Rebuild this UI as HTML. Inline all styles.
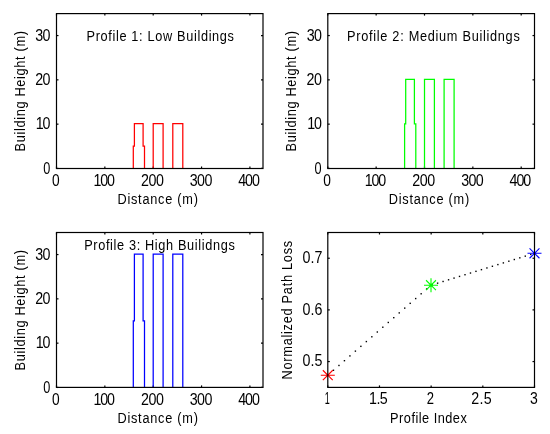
<!DOCTYPE html>
<html><head><meta charset="utf-8"><title>Building profiles and normalized path loss</title>
<style>
html,body{margin:0;padding:0;background:#fff;}
svg{display:block;}
svg text{font-family:"Liberation Sans", Arial, Helvetica, sans-serif;font-size:15.0px;fill:#000;}
</style></head><body>
<svg width="550" height="434" viewBox="0 0 550 434">
<rect width="550" height="434" fill="#fff"/>
<line x1="56.50" y1="168.50" x2="56.50" y2="166.50" stroke="#000" stroke-width="1.2"/>
<line x1="56.50" y1="13.60" x2="56.50" y2="15.60" stroke="#000" stroke-width="1.2"/>
<line x1="104.85" y1="168.50" x2="104.85" y2="166.50" stroke="#000" stroke-width="1.2"/>
<line x1="104.85" y1="13.60" x2="104.85" y2="15.60" stroke="#000" stroke-width="1.2"/>
<line x1="153.20" y1="168.50" x2="153.20" y2="166.50" stroke="#000" stroke-width="1.2"/>
<line x1="153.20" y1="13.60" x2="153.20" y2="15.60" stroke="#000" stroke-width="1.2"/>
<line x1="201.55" y1="168.50" x2="201.55" y2="166.50" stroke="#000" stroke-width="1.2"/>
<line x1="201.55" y1="13.60" x2="201.55" y2="15.60" stroke="#000" stroke-width="1.2"/>
<line x1="249.90" y1="168.50" x2="249.90" y2="166.50" stroke="#000" stroke-width="1.2"/>
<line x1="249.90" y1="13.60" x2="249.90" y2="15.60" stroke="#000" stroke-width="1.2"/>
<line x1="56.50" y1="168.45" x2="58.50" y2="168.45" stroke="#000" stroke-width="1.2"/>
<line x1="263.00" y1="168.45" x2="261.00" y2="168.45" stroke="#000" stroke-width="1.2"/>
<line x1="56.50" y1="124.15" x2="58.50" y2="124.15" stroke="#000" stroke-width="1.2"/>
<line x1="263.00" y1="124.15" x2="261.00" y2="124.15" stroke="#000" stroke-width="1.2"/>
<line x1="56.50" y1="79.85" x2="58.50" y2="79.85" stroke="#000" stroke-width="1.2"/>
<line x1="263.00" y1="79.85" x2="261.00" y2="79.85" stroke="#000" stroke-width="1.2"/>
<line x1="56.50" y1="35.55" x2="58.50" y2="35.55" stroke="#000" stroke-width="1.2"/>
<line x1="263.00" y1="35.55" x2="261.00" y2="35.55" stroke="#000" stroke-width="1.2"/>
<text transform="translate(51.95,185.60) scale(0.9167,1.040)">0</text>
<text transform="translate(93.56,185.60) scale(0.9500,1.040)" style="letter-spacing:-1.309px">100</text>
<text transform="translate(140.99,185.60) scale(0.9500,1.040)" style="letter-spacing:-0.429px">200</text>
<text transform="translate(189.83,185.60) scale(0.9500,1.040)" style="letter-spacing:-0.662px">300</text>
<text transform="translate(238.31,185.60) scale(0.9500,1.040)" style="letter-spacing:-1.180px">400</text>
<text transform="translate(35.33,40.80) scale(0.9500,1.040)" style="letter-spacing:-0.713px">30</text>
<text transform="translate(35.19,84.75) scale(0.9500,1.040)" style="letter-spacing:-0.563px">20</text>
<text transform="translate(35.86,128.85) scale(0.9500,1.040)" style="letter-spacing:-1.271px">10</text>
<text transform="translate(43.29,173.95) scale(0.8472,1.040)">0</text>
<text transform="translate(117.48,204.20) scale(0.8500,1.030)" style="letter-spacing:0.876px">Distance (m)</text>
<text transform="translate(24.70,151.42) rotate(-90) scale(0.8500,1.030)" style="letter-spacing:0.785px">Building Height (m)</text>
<polyline points="133.30,168.50 133.30,146.10 134.40,146.10 134.40,123.65 143.10,123.65 143.10,146.10 144.50,146.10 144.50,168.50" fill="none" stroke="#ff0000" stroke-width="1.25"/>
<polyline points="153.20,168.50 153.20,123.65 163.10,123.65 163.10,168.50" fill="none" stroke="#ff0000" stroke-width="1.25"/>
<polyline points="172.80,168.50 172.80,123.65 182.80,123.65 182.80,168.50" fill="none" stroke="#ff0000" stroke-width="1.25"/>
<text transform="translate(86.48,40.60) scale(0.8500,1.030)" style="letter-spacing:0.769px">Profile 1: Low Buildings</text>
<line x1="327.80" y1="168.50" x2="327.80" y2="166.50" stroke="#000" stroke-width="1.2"/>
<line x1="327.80" y1="13.60" x2="327.80" y2="15.60" stroke="#000" stroke-width="1.2"/>
<line x1="376.15" y1="168.50" x2="376.15" y2="166.50" stroke="#000" stroke-width="1.2"/>
<line x1="376.15" y1="13.60" x2="376.15" y2="15.60" stroke="#000" stroke-width="1.2"/>
<line x1="424.50" y1="168.50" x2="424.50" y2="166.50" stroke="#000" stroke-width="1.2"/>
<line x1="424.50" y1="13.60" x2="424.50" y2="15.60" stroke="#000" stroke-width="1.2"/>
<line x1="472.85" y1="168.50" x2="472.85" y2="166.50" stroke="#000" stroke-width="1.2"/>
<line x1="472.85" y1="13.60" x2="472.85" y2="15.60" stroke="#000" stroke-width="1.2"/>
<line x1="521.20" y1="168.50" x2="521.20" y2="166.50" stroke="#000" stroke-width="1.2"/>
<line x1="521.20" y1="13.60" x2="521.20" y2="15.60" stroke="#000" stroke-width="1.2"/>
<line x1="327.80" y1="168.45" x2="329.80" y2="168.45" stroke="#000" stroke-width="1.2"/>
<line x1="534.50" y1="168.45" x2="532.50" y2="168.45" stroke="#000" stroke-width="1.2"/>
<line x1="327.80" y1="124.15" x2="329.80" y2="124.15" stroke="#000" stroke-width="1.2"/>
<line x1="534.50" y1="124.15" x2="532.50" y2="124.15" stroke="#000" stroke-width="1.2"/>
<line x1="327.80" y1="79.85" x2="329.80" y2="79.85" stroke="#000" stroke-width="1.2"/>
<line x1="534.50" y1="79.85" x2="532.50" y2="79.85" stroke="#000" stroke-width="1.2"/>
<line x1="327.80" y1="35.55" x2="329.80" y2="35.55" stroke="#000" stroke-width="1.2"/>
<line x1="534.50" y1="35.55" x2="532.50" y2="35.55" stroke="#000" stroke-width="1.2"/>
<text transform="translate(323.25,185.60) scale(0.9167,1.040)">0</text>
<text transform="translate(364.86,185.60) scale(0.9500,1.040)" style="letter-spacing:-1.309px">100</text>
<text transform="translate(412.29,185.60) scale(0.9500,1.040)" style="letter-spacing:-0.429px">200</text>
<text transform="translate(461.13,185.60) scale(0.9500,1.040)" style="letter-spacing:-0.662px">300</text>
<text transform="translate(509.62,185.60) scale(0.9500,1.040)" style="letter-spacing:-1.180px">400</text>
<text transform="translate(306.63,40.80) scale(0.9500,1.040)" style="letter-spacing:-0.713px">30</text>
<text transform="translate(306.49,84.75) scale(0.9500,1.040)" style="letter-spacing:-0.563px">20</text>
<text transform="translate(307.16,128.85) scale(0.9500,1.040)" style="letter-spacing:-1.271px">10</text>
<text transform="translate(314.59,173.95) scale(0.8472,1.040)">0</text>
<text transform="translate(388.78,204.20) scale(0.8500,1.030)" style="letter-spacing:0.876px">Distance (m)</text>
<text transform="translate(296.00,151.42) rotate(-90) scale(0.8500,1.030)" style="letter-spacing:0.785px">Building Height (m)</text>
<polyline points="404.60,168.50 404.60,123.95 405.70,123.95 405.70,79.35 414.40,79.35 414.40,123.95 415.80,123.95 415.80,168.50" fill="none" stroke="#00ff00" stroke-width="1.25"/>
<polyline points="424.50,168.50 424.50,79.35 434.40,79.35 434.40,168.50" fill="none" stroke="#00ff00" stroke-width="1.25"/>
<polyline points="444.10,168.50 444.10,79.35 454.10,79.35 454.10,168.50" fill="none" stroke="#00ff00" stroke-width="1.25"/>
<text transform="translate(347.08,40.70) scale(0.8500,1.030)" style="letter-spacing:0.828px">Profile 2: Medium Builidngs</text>
<line x1="56.50" y1="387.40" x2="56.50" y2="385.40" stroke="#000" stroke-width="1.2"/>
<line x1="56.50" y1="232.50" x2="56.50" y2="234.50" stroke="#000" stroke-width="1.2"/>
<line x1="104.85" y1="387.40" x2="104.85" y2="385.40" stroke="#000" stroke-width="1.2"/>
<line x1="104.85" y1="232.50" x2="104.85" y2="234.50" stroke="#000" stroke-width="1.2"/>
<line x1="153.20" y1="387.40" x2="153.20" y2="385.40" stroke="#000" stroke-width="1.2"/>
<line x1="153.20" y1="232.50" x2="153.20" y2="234.50" stroke="#000" stroke-width="1.2"/>
<line x1="201.55" y1="387.40" x2="201.55" y2="385.40" stroke="#000" stroke-width="1.2"/>
<line x1="201.55" y1="232.50" x2="201.55" y2="234.50" stroke="#000" stroke-width="1.2"/>
<line x1="249.90" y1="387.40" x2="249.90" y2="385.40" stroke="#000" stroke-width="1.2"/>
<line x1="249.90" y1="232.50" x2="249.90" y2="234.50" stroke="#000" stroke-width="1.2"/>
<line x1="56.50" y1="387.45" x2="58.50" y2="387.45" stroke="#000" stroke-width="1.2"/>
<line x1="263.00" y1="387.45" x2="261.00" y2="387.45" stroke="#000" stroke-width="1.2"/>
<line x1="56.50" y1="343.15" x2="58.50" y2="343.15" stroke="#000" stroke-width="1.2"/>
<line x1="263.00" y1="343.15" x2="261.00" y2="343.15" stroke="#000" stroke-width="1.2"/>
<line x1="56.50" y1="298.85" x2="58.50" y2="298.85" stroke="#000" stroke-width="1.2"/>
<line x1="263.00" y1="298.85" x2="261.00" y2="298.85" stroke="#000" stroke-width="1.2"/>
<line x1="56.50" y1="254.55" x2="58.50" y2="254.55" stroke="#000" stroke-width="1.2"/>
<line x1="263.00" y1="254.55" x2="261.00" y2="254.55" stroke="#000" stroke-width="1.2"/>
<text transform="translate(51.95,404.60) scale(0.9167,1.040)">0</text>
<text transform="translate(93.56,404.60) scale(0.9500,1.040)" style="letter-spacing:-1.309px">100</text>
<text transform="translate(140.99,404.60) scale(0.9500,1.040)" style="letter-spacing:-0.429px">200</text>
<text transform="translate(189.83,404.60) scale(0.9500,1.040)" style="letter-spacing:-0.662px">300</text>
<text transform="translate(238.31,404.60) scale(0.9500,1.040)" style="letter-spacing:-1.180px">400</text>
<text transform="translate(35.33,259.80) scale(0.9500,1.040)" style="letter-spacing:-0.713px">30</text>
<text transform="translate(35.19,303.75) scale(0.9500,1.040)" style="letter-spacing:-0.563px">20</text>
<text transform="translate(35.86,347.85) scale(0.9500,1.040)" style="letter-spacing:-1.271px">10</text>
<text transform="translate(43.29,392.95) scale(0.8472,1.040)">0</text>
<text transform="translate(117.48,423.20) scale(0.8500,1.030)" style="letter-spacing:0.876px">Distance (m)</text>
<text transform="translate(24.70,370.42) rotate(-90) scale(0.8500,1.030)" style="letter-spacing:0.785px">Building Height (m)</text>
<polyline points="133.30,387.40 133.30,320.80 134.40,320.80 134.40,254.05 143.10,254.05 143.10,320.80 144.50,320.80 144.50,387.40" fill="none" stroke="#0000ff" stroke-width="1.25"/>
<polyline points="153.20,387.40 153.20,254.05 163.10,254.05 163.10,387.40" fill="none" stroke="#0000ff" stroke-width="1.25"/>
<polyline points="172.80,387.40 172.80,254.05 182.80,254.05 182.80,387.40" fill="none" stroke="#0000ff" stroke-width="1.25"/>
<text transform="translate(84.18,250.30) scale(0.8500,1.030)" style="letter-spacing:0.751px">Profile 3: High Builidngs</text>
<line x1="327.80" y1="387.40" x2="327.80" y2="385.40" stroke="#000" stroke-width="1.2"/>
<line x1="327.80" y1="232.50" x2="327.80" y2="234.50" stroke="#000" stroke-width="1.2"/>
<line x1="379.48" y1="387.40" x2="379.48" y2="385.40" stroke="#000" stroke-width="1.2"/>
<line x1="379.48" y1="232.50" x2="379.48" y2="234.50" stroke="#000" stroke-width="1.2"/>
<line x1="431.15" y1="387.40" x2="431.15" y2="385.40" stroke="#000" stroke-width="1.2"/>
<line x1="431.15" y1="232.50" x2="431.15" y2="234.50" stroke="#000" stroke-width="1.2"/>
<line x1="482.82" y1="387.40" x2="482.82" y2="385.40" stroke="#000" stroke-width="1.2"/>
<line x1="482.82" y1="232.50" x2="482.82" y2="234.50" stroke="#000" stroke-width="1.2"/>
<line x1="534.50" y1="387.40" x2="534.50" y2="385.40" stroke="#000" stroke-width="1.2"/>
<line x1="534.50" y1="232.50" x2="534.50" y2="234.50" stroke="#000" stroke-width="1.2"/>
<line x1="327.80" y1="361.56" x2="329.80" y2="361.56" stroke="#000" stroke-width="1.2"/>
<line x1="534.50" y1="361.56" x2="532.50" y2="361.56" stroke="#000" stroke-width="1.2"/>
<line x1="327.80" y1="309.89" x2="329.80" y2="309.89" stroke="#000" stroke-width="1.2"/>
<line x1="534.50" y1="309.89" x2="532.50" y2="309.89" stroke="#000" stroke-width="1.2"/>
<line x1="327.80" y1="258.23" x2="329.80" y2="258.23" stroke="#000" stroke-width="1.2"/>
<line x1="534.50" y1="258.23" x2="532.50" y2="258.23" stroke="#000" stroke-width="1.2"/>
<text transform="translate(324.67,404.20) scale(0.6047,1.040)">1</text>
<text transform="translate(369.06,404.20) scale(0.9500,1.040)" style="letter-spacing:-0.578px">1.5</text>
<text transform="translate(426.75,404.20) scale(0.8696,1.040)">2</text>
<text transform="translate(471.29,404.20) scale(0.9500,1.040)" style="letter-spacing:0.250px">2.5</text>
<text transform="translate(529.94,404.20) scale(0.9362,1.040)">3</text>
<text transform="translate(302.53,263.05) scale(0.9500,1.040)" style="letter-spacing:0.092px">0.7</text>
<text transform="translate(302.53,314.50) scale(0.9500,1.040)" style="letter-spacing:0.017px">0.6</text>
<text transform="translate(302.53,366.25) scale(0.9500,1.040)" style="letter-spacing:0.017px">0.5</text>
<text transform="translate(390.08,423.00) scale(0.8500,1.030)" style="letter-spacing:0.577px">Profile Index</text>
<text transform="translate(291.60,379.42) rotate(-90) scale(0.8500,1.030)" style="letter-spacing:0.861px">Normalized Path Loss</text>
<rect x="332.78" y="369.55" width="1.4" height="1.4" fill="#000"/><rect x="338.26" y="364.77" width="1.4" height="1.4" fill="#000"/><rect x="343.74" y="359.99" width="1.4" height="1.4" fill="#000"/><rect x="349.22" y="355.21" width="1.4" height="1.4" fill="#000"/><rect x="354.70" y="350.43" width="1.4" height="1.4" fill="#000"/><rect x="360.18" y="345.65" width="1.4" height="1.4" fill="#000"/><rect x="365.66" y="340.87" width="1.4" height="1.4" fill="#000"/><rect x="371.14" y="336.09" width="1.4" height="1.4" fill="#000"/><rect x="376.62" y="331.31" width="1.4" height="1.4" fill="#000"/><rect x="382.10" y="326.53" width="1.4" height="1.4" fill="#000"/><rect x="387.58" y="321.76" width="1.4" height="1.4" fill="#000"/><rect x="393.06" y="316.98" width="1.4" height="1.4" fill="#000"/><rect x="398.54" y="312.20" width="1.4" height="1.4" fill="#000"/><rect x="404.02" y="307.42" width="1.4" height="1.4" fill="#000"/><rect x="409.50" y="302.64" width="1.4" height="1.4" fill="#000"/><rect x="414.98" y="297.86" width="1.4" height="1.4" fill="#000"/><rect x="420.46" y="293.08" width="1.4" height="1.4" fill="#000"/><rect x="425.94" y="288.30" width="1.4" height="1.4" fill="#000"/><rect x="431.42" y="284.15" width="1.4" height="1.4" fill="#000"/><rect x="436.90" y="282.47" width="1.4" height="1.4" fill="#000"/><rect x="442.38" y="280.78" width="1.4" height="1.4" fill="#000"/><rect x="447.86" y="279.09" width="1.4" height="1.4" fill="#000"/><rect x="453.34" y="277.40" width="1.4" height="1.4" fill="#000"/><rect x="458.82" y="275.71" width="1.4" height="1.4" fill="#000"/><rect x="464.30" y="274.02" width="1.4" height="1.4" fill="#000"/><rect x="469.78" y="272.33" width="1.4" height="1.4" fill="#000"/><rect x="475.26" y="270.64" width="1.4" height="1.4" fill="#000"/><rect x="480.74" y="268.95" width="1.4" height="1.4" fill="#000"/><rect x="486.22" y="267.26" width="1.4" height="1.4" fill="#000"/><rect x="491.70" y="265.58" width="1.4" height="1.4" fill="#000"/><rect x="497.18" y="263.89" width="1.4" height="1.4" fill="#000"/><rect x="502.66" y="262.20" width="1.4" height="1.4" fill="#000"/><rect x="508.14" y="260.51" width="1.4" height="1.4" fill="#000"/><rect x="513.62" y="258.82" width="1.4" height="1.4" fill="#000"/><rect x="519.10" y="257.13" width="1.4" height="1.4" fill="#000"/><rect x="524.58" y="255.44" width="1.4" height="1.4" fill="#000"/><rect x="530.06" y="253.75" width="1.4" height="1.4" fill="#000"/>
<path d="M320.80,375.20H334.80M322.85,370.25L332.75,380.15M322.85,380.15L332.75,370.25" stroke="#ff0000" stroke-width="1.1" fill="none"/>
<path d="M424.00,285.20H438.00M431.00,278.20V292.20M426.05,280.25L435.95,290.15M426.05,290.15L435.95,280.25" stroke="#00ff00" stroke-width="1.1" fill="none"/>
<path d="M527.50,253.30H541.50M529.55,248.35L539.45,258.25M529.55,258.25L539.45,248.35" stroke="#0000ff" stroke-width="1.1" fill="none"/>
<rect x="56.5" y="13.6" width="206.50" height="154.90" fill="none" stroke="#000" stroke-width="1.2"/>
<rect x="327.8" y="13.6" width="206.70" height="154.90" fill="none" stroke="#000" stroke-width="1.2"/>
<rect x="56.5" y="232.5" width="206.50" height="154.90" fill="none" stroke="#000" stroke-width="1.2"/>
<rect x="327.8" y="232.5" width="206.70" height="154.90" fill="none" stroke="#000" stroke-width="1.2"/>
</svg>
</body></html>
